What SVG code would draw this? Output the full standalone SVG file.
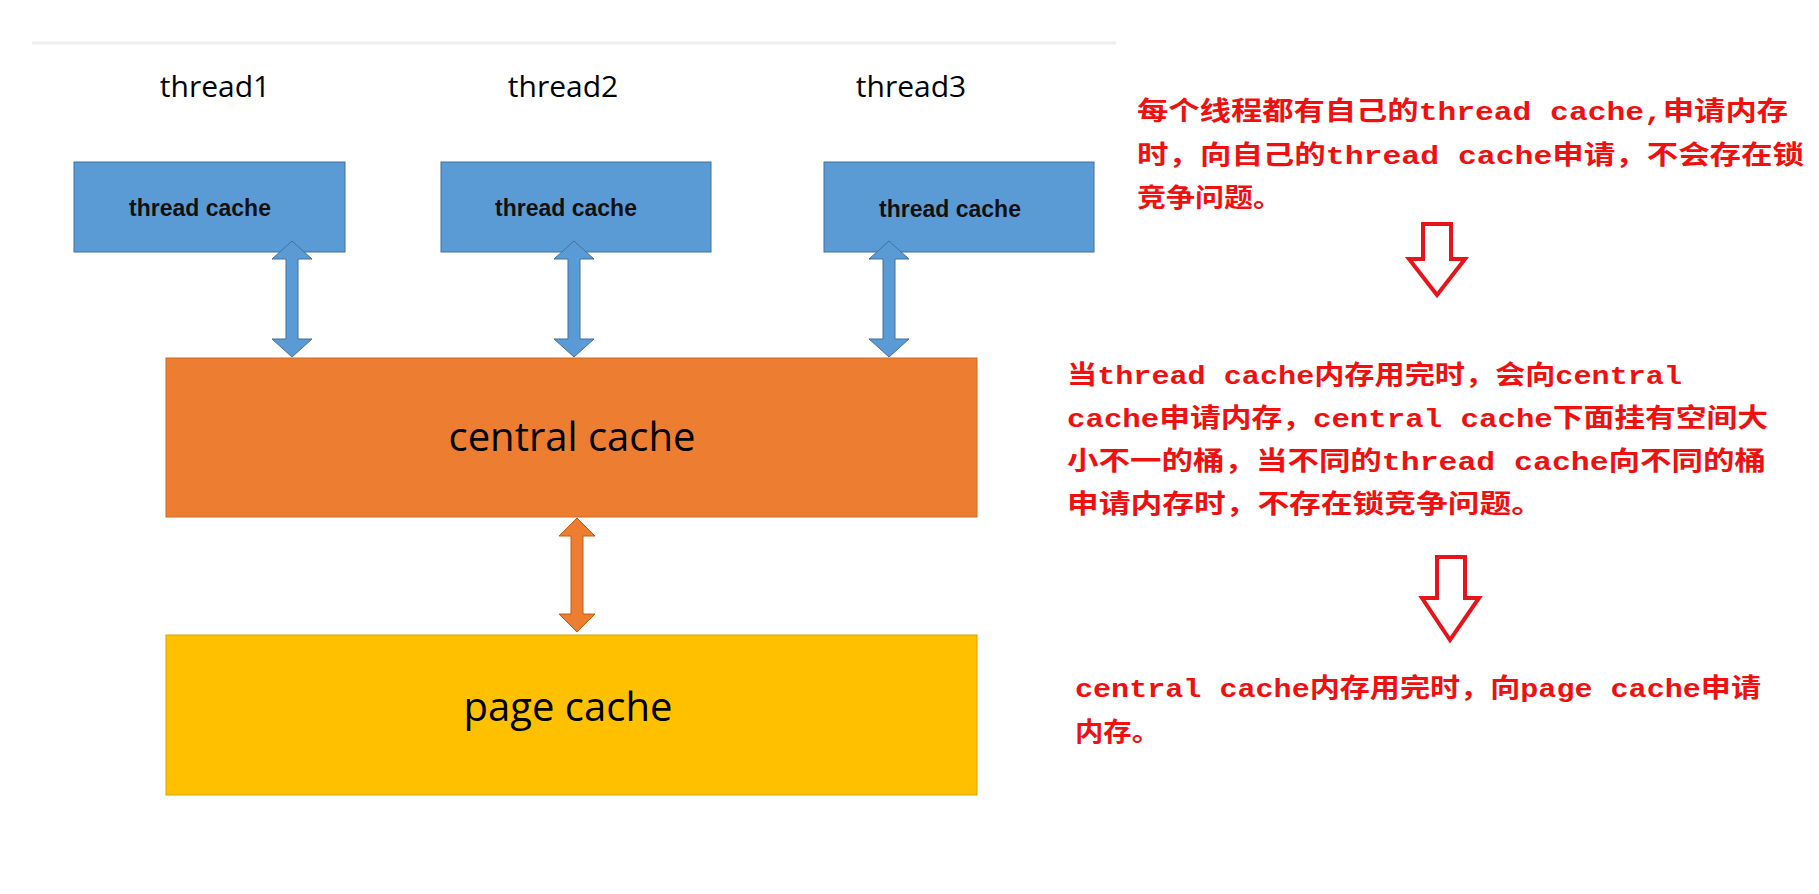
<svg xmlns="http://www.w3.org/2000/svg" width="1819" height="894" viewBox="0 0 1819 894">
<style>
.lbl{font-family:"Segoe UI","Open Sans","Noto Sans",sans-serif;fill:#000;text-anchor:middle}
.tc{font-family:"Liberation Sans",Arial,sans-serif;font-weight:bold;font-size:23px;fill:#111;text-anchor:middle}
.blue{fill:#5B9BD5;stroke:#41719C;stroke-width:1}
.red{font-family:"Liberation Mono","Noto Sans CJK SC",monospace;font-weight:bold;font-size:26px;fill:#F01010}
.hol{fill:none;stroke:#E8141C;stroke-width:4;stroke-linejoin:miter}
</style>
<rect width="1819" height="894" fill="#fff"/>
<line x1="32" y1="43" x2="1116" y2="43" stroke="#eee" stroke-width="3"/>
<g id="thread-labels">
<text class="lbl" x="215" y="97" font-size="30">thread1</text>
<text class="lbl" x="563" y="97" font-size="30">thread2</text>
<text class="lbl" x="911" y="97" font-size="30">thread3</text>
</g>
<g id="tc1"><rect class="blue" x="74" y="162" width="271" height="90"/><text class="tc" x="200" y="216">thread cache</text></g>
<g id="tc2"><rect class="blue" x="441" y="162" width="270" height="90"/><text class="tc" x="566" y="216">thread cache</text></g>
<g id="tc3"><rect class="blue" x="824" y="162" width="270" height="90"/><text class="tc" x="950" y="217">thread cache</text></g>
<g id="central"><rect x="166" y="358" width="811" height="159" fill="#ED7D31" stroke="#D06A25"/><text class="lbl" x="572" y="451" font-size="40">central cache</text></g>
<g id="page"><rect x="166" y="635" width="811" height="160" fill="#FFC000" stroke="#D6A300"/><text class="lbl" x="568" y="721" font-size="40">page cache</text></g>
<g id="connectors">
<path class="blue" d="M292,241 l20,18 h-14 v80 h14 l-20,18 l-20,-18 h14 v-80 h-14 z"/>
<path class="blue" d="M574,241 l20,18 h-14 v80 h14 l-20,18 l-20,-18 h14 v-80 h-14 z"/>
<path class="blue" d="M889,241 l20,18 h-14 v80 h14 l-20,18 l-20,-18 h14 v-80 h-14 z"/>
<path d="M577,518 l18,18 h-12 v78 h12 l-18,18 l-18,-18 h12 v-78 h-12 z" fill="#ED7D31" stroke="#C55A11"/>
<path class="hol" d="M1423,224 h28 v35 h14 l-28,36 l-28,-36 h14 z"/>
<path class="hol" d="M1437,557 h28 v41 h14 l-29,42 l-28,-42 h15 z"/>
</g>
<g id="notes">
<text class="red" x="1137" y="120" textLength="651" lengthAdjust="spacingAndGlyphs">每个线程都有自己的thread cache,申请内存</text>
<text class="red" x="1137" y="164" textLength="667" lengthAdjust="spacingAndGlyphs">时，向自己的thread cache申请，不会存在锁</text>
<text class="red" x="1137" y="207" textLength="145" lengthAdjust="spacingAndGlyphs">竞争问题。</text>
<text class="red" x="1067" y="384" textLength="615" lengthAdjust="spacingAndGlyphs">当thread cache内存用完时，会向central</text>
<text class="red" x="1067" y="427" textLength="701" lengthAdjust="spacingAndGlyphs">cache申请内存，central cache下面挂有空间大</text>
<text class="red" x="1067" y="470" textLength="699" lengthAdjust="spacingAndGlyphs">小不一的桶，当不同的thread cache向不同的桶</text>
<text class="red" x="1067" y="513" textLength="476" lengthAdjust="spacingAndGlyphs">申请内存时，不存在锁竞争问题。</text>
<text class="red" x="1075" y="697" textLength="686" lengthAdjust="spacingAndGlyphs">central cache内存用完时，向page cache申请</text>
<text class="red" x="1075" y="741" textLength="85" lengthAdjust="spacingAndGlyphs">内存。</text>
</g>
</svg>
